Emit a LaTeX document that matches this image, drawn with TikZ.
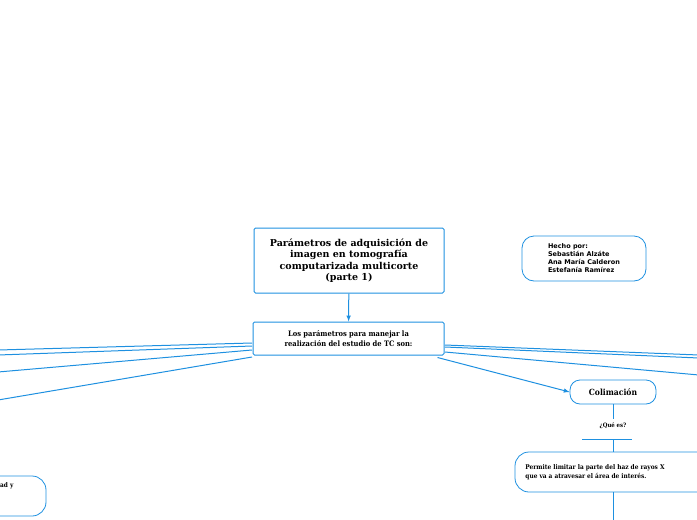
\documentclass[tikz,border=0pt]{standalone}
\usepackage{fontspec}
\setmainfont{DejaVu Serif}
\newfontfamily\hsans{DejaVu Sans}
\newfontfamily\cond{DejaVu Serif Condensed}
\definecolor{bl}{HTML}{1E90E0}
\begin{document}
\begin{tikzpicture}[x=1pt,y=-1pt,
  box/.style={draw=bl,line width=1pt,rounded corners=1.5pt,align=center,inner sep=0pt},
  pill/.style={draw=bl,line width=0.8pt,rounded corners=12pt,inner sep=0pt},
  conn/.style={draw=bl,line width=1pt},
  >=latex]
\useasboundingbox (0,0) rectangle (697,520);
\begin{scope}
\clip (0,0) rectangle (697,520);
\node[box,minimum width=190pt,minimum height=65pt,font=\bfseries\fontsize{9.5}{11.5}\selectfont] (t) at (349,260.5) {Parámetros de adquisición de\\imagen en tomografía\\computarizada multicorte\\(parte 1)};
\node[box,minimum width=191pt,minimum height=33pt,font=\cond\bfseries\fontsize{7.5}{10.5}\selectfont] (p) at (348.5,338.5) {Los parámetros para manejar la\\realización del estudio de TC son:};
\node[pill,minimum width=124pt,minimum height=45pt,font=\hsans\bfseries\fontsize{6.5}{8}\selectfont,align=left] (h) at (584,258.5) {Hecho por:\\Sebastián Alzáte\\Ana María Calderon\\Estefanía Ramírez};
\node[pill,minimum width=86pt,minimum height=24pt,rounded corners=10pt,font=\cond\bfseries\fontsize{8.5}{10}\selectfont] (c) at (613,392) {Colimación};
\node[font=\cond\bfseries\fontsize{6}{7}\selectfont] (q) at (613,426) {¿Qué es?};
\coordinate (ql) at (582,439); \coordinate (qr) at (632,439);
\node[pill,minimum width=200pt,minimum height=40pt,rounded corners=14pt,font=\cond\bfseries\fontsize{6.5}{9}\selectfont,align=left] (d) at (615,472) {\hspace*{-40pt}Permite limitar la parte del haz de rayos X\\\hspace*{-40pt}que va a atravesar el área de interés.};
\node[pill,minimum width=90pt,minimum height=40pt,rounded corners=14pt] (l) at (1,496) {};
\node[font=\cond\bfseries\fontsize{6.5}{8}\selectfont,anchor=east] (lt) at (17,486) {dad y};
\draw[conn,->] (t) -- (p);
\draw[conn,->] (p.south east) ++(-7,2) coordinate (pa) (pa) -- (c.west);
\draw[conn] (c) -- (q);
\draw[conn] (ql) -- (qr);
\draw[conn] (613,439) -- (d.north -| 613,0);
\draw[conn] (613,490) ++(0,0) (d.south -| 613,0) -- (613,525);
\coordinate (L1) at (-2,350); \coordinate (L2) at (-2,355);
\coordinate (L3) at (-2,372); \coordinate (L4) at (-2,400);
\coordinate (R1) at (699,355); \coordinate (R2) at (699,358); \coordinate (R3) at (699,375);
\draw[conn] (252,343) -- (L1);
\draw[conn] (252,346) -- (L2);
\draw[conn] (252,350) -- (L3);
\draw[conn] (252,357) -- (L4);
\draw[conn] (445,345) -- (R1);
\draw[conn] (445,347) -- (R2);
\draw[conn] (445,352) -- (R3);
\end{scope}
\end{tikzpicture}
\end{document}
